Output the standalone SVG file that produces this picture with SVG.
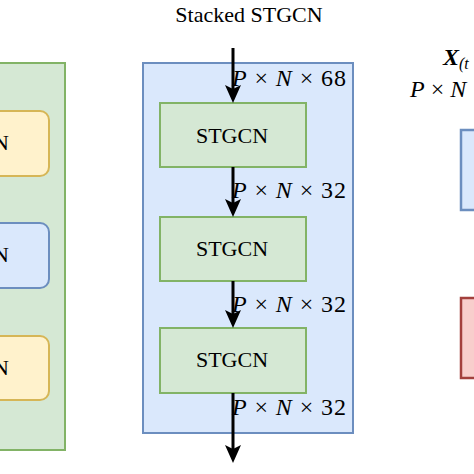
<svg xmlns="http://www.w3.org/2000/svg" width="474" height="474" viewBox="0 0 474 474">
<defs>
<style>
.t{font-family:"Liberation Serif","Times New Roman",serif;font-size:22px;fill:#000}
.m{font-family:"Liberation Serif","Times New Roman",serif;font-size:24px;fill:#000}
.i{font-style:italic}
.green{fill:#d5e8d4;stroke:#82b366;stroke-width:2}
.blue{fill:#dae8fc;stroke:#6c8ebf;stroke-width:2}
.yellow{fill:#fff2cc;stroke:#d6b656;stroke-width:2}
.red{fill:#f8cecc;stroke:#a3403d;stroke-width:2.5}
.arr{stroke:#000;stroke-width:3;fill:none;marker-end:url(#ah)}
</style>
<marker id="ah" markerUnits="userSpaceOnUse" markerWidth="20" markerHeight="18" refX="6" refY="8" orient="auto" overflow="visible">
<path d="M0,0 L18,8 L0,16 L4,8 Z" fill="#000"/>
</marker>
</defs>
<rect width="474" height="474" fill="#fff"/>

<g id="left-panel">
<rect class="green" x="-5" y="63" width="70" height="387"/>
</g>
<g id="left-box1">
<rect class="yellow" x="-20" y="111" width="69" height="65" rx="9"/>
<text class="t" x="9" y="150" text-anchor="end">N</text>
</g>
<g id="left-box2">
<rect class="blue" x="-20" y="223" width="69" height="65" rx="9"/>
<text class="t" x="9" y="262" text-anchor="end">N</text>
</g>
<g id="left-box3">
<rect class="yellow" x="-20" y="336" width="69" height="64" rx="9"/>
<text class="t" x="9" y="375" text-anchor="end">N</text>
</g>

<g id="stacked">
<text class="t" x="249" y="22" text-anchor="middle">Stacked STGCN</text>
<rect class="blue" x="143" y="63" width="210" height="370"/>
</g>
<g id="stgcn1">
<rect class="green" x="160" y="103" width="146" height="64"/>
<text class="t" x="232" y="143" text-anchor="middle">STGCN</text>
</g>
<g id="stgcn2">
<rect class="green" x="160" y="217" width="146" height="64"/>
<text class="t" x="232" y="256" text-anchor="middle">STGCN</text>
</g>
<g id="stgcn3">
<rect class="green" x="160" y="328" width="146" height="65"/>
<text class="t" x="232" y="367" text-anchor="middle">STGCN</text>
</g>

<g id="connectors">
<line class="arr" x1="233" y1="48" x2="233" y2="91"/>
<line class="arr" x1="233" y1="167" x2="233" y2="205"/>
<line class="arr" x1="233" y1="281" x2="233" y2="316"/>
<line class="arr" x1="233" y1="393" x2="233" y2="451"/>
<text class="m" x="232" y="86" textLength="114" lengthAdjust="spacing"><tspan class="i">P</tspan> × <tspan class="i">N</tspan> × 68</text>
<text class="m" x="232" y="198" textLength="114" lengthAdjust="spacing"><tspan class="i">P</tspan> × <tspan class="i">N</tspan> × 32</text>
<text class="m" x="232" y="312" textLength="114" lengthAdjust="spacing"><tspan class="i">P</tspan> × <tspan class="i">N</tspan> × 32</text>
<text class="m" x="232" y="415" textLength="114" lengthAdjust="spacing"><tspan class="i">P</tspan> × <tspan class="i">N</tspan> × 32</text>
</g>

<g id="right-labels">
<text class="m" x="443" y="65"><tspan class="i" font-weight="bold">X</tspan><tspan font-size="16" dy="4" class="i">(t</tspan></text>
<text class="m" x="410" y="97"><tspan class="i">P</tspan> × <tspan class="i">N</tspan></text>
</g>
<g id="right-box1">
<rect class="blue" x="461" y="130" width="30" height="80" style="stroke-width:2.5"/>
</g>
<g id="right-box2">
<rect class="red" x="461" y="298" width="30" height="80"/>
</g>
</svg>
